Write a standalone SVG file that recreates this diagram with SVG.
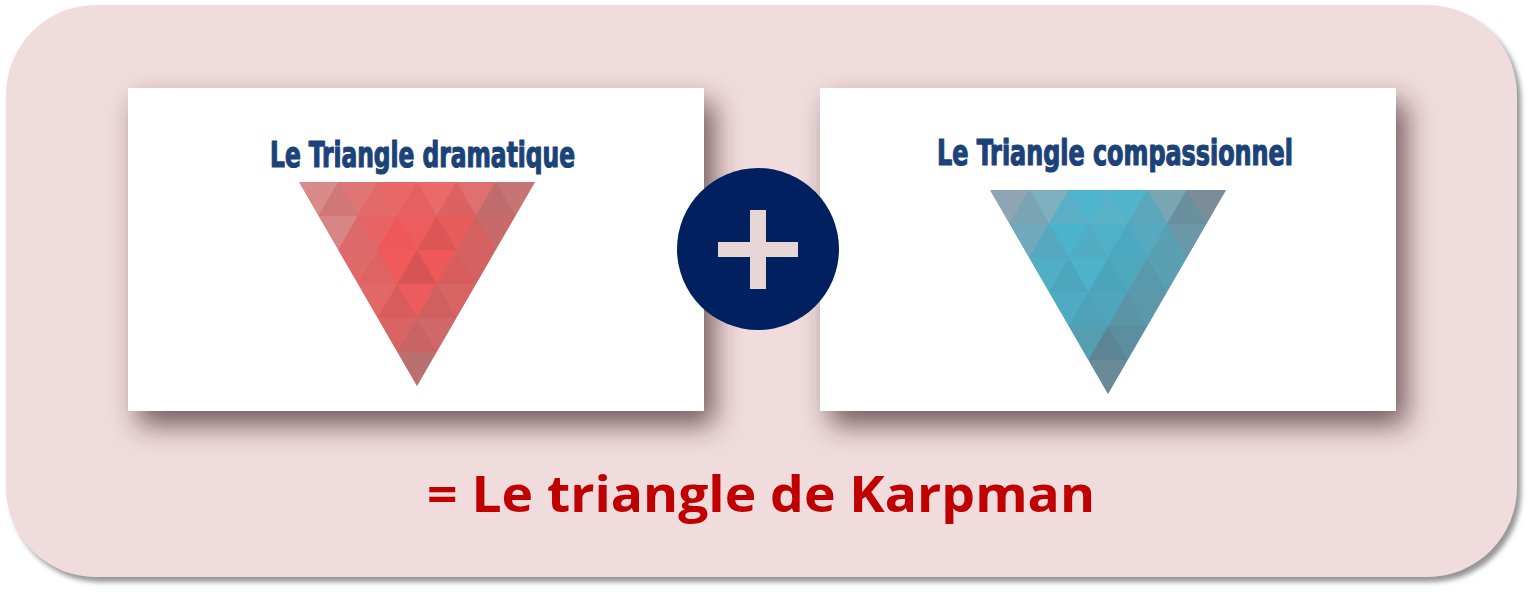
<svg xmlns="http://www.w3.org/2000/svg" xmlns:xlink="http://www.w3.org/1999/xlink" width="1536" height="597" viewBox="0 0 1536 597">
<style>
.title{font-family:"Liberation Sans Narrow","DejaVu Sans Condensed","Liberation Sans",sans-serif;font-weight:bold;font-size:35px;fill:#1b4279;stroke:#1b4279;stroke-width:1.2px;stroke-linejoin:round;}
.result{font-family:"Open Sans","Liberation Sans",sans-serif;font-weight:bold;font-size:50px;fill:#c00000;}
</style>
<defs>
<filter id="outerShadow" x="-5%" y="-5%" width="110%" height="115%">
<feDropShadow dx="4" dy="5" stdDeviation="2.5" flood-color="#8a8a8a" flood-opacity="0.9"/>
</filter>
<filter id="cardShadow" x="-10%" y="-15%" width="125%" height="145%">
<feDropShadow dx="10" dy="14" stdDeviation="14" flood-color="#4a2e30" flood-opacity="0.75"/>
</filter>
<path id="dn" d="M0,0 L39.33,0 L19.67,34 Z"/>
<path id="up" d="M19.67,0 L39.33,34 L0,34 Z"/>
</defs>

<rect id="background" x="6" y="5" width="1511" height="572" rx="90" fill="#f0dcdc" filter="url(#outerShadow)"/>

<g id="card-dramatique">
<rect x="128" y="88" width="576" height="323" fill="#ffffff" filter="url(#cardShadow)"/>
<text class="title" x="270" y="167" textLength="305" lengthAdjust="spacingAndGlyphs">Le Triangle dramatique</text>
<g transform="translate(299,182)">
<path d="M0.5,0.5 L235.5,0.5 L118,203.5 Z" fill="#dc6464"/>
<use href="#dn" x="0" y="0" fill="#d98a8a"/>
<use href="#dn" x="39.33" y="0" fill="#e07575"/>
<use href="#dn" x="78.67" y="0" fill="#e86868"/>
<use href="#dn" x="118" y="0" fill="#ea6a6a"/>
<use href="#dn" x="157.33" y="0" fill="#e07070"/>
<use href="#dn" x="196.67" y="0" fill="#c57575"/>
<use href="#up" x="19.67" y="0" fill="#d07878"/>
<use href="#up" x="59" y="0" fill="#e46a6a"/>
<use href="#up" x="98.33" y="0" fill="#e56060"/>
<use href="#up" x="137.67" y="0" fill="#dc6262"/>
<use href="#up" x="177" y="0" fill="#c06c6c"/>
<use href="#dn" x="19.67" y="34" fill="#d88585"/>
<use href="#dn" x="59" y="34" fill="#e86464"/>
<use href="#dn" x="98.33" y="34" fill="#ee5d5d"/>
<use href="#dn" x="137.67" y="34" fill="#e85c5c"/>
<use href="#dn" x="177" y="34" fill="#c86a6a"/>
<use href="#up" x="39.33" y="34" fill="#dc6a6a"/>
<use href="#up" x="78.67" y="34" fill="#ef5858"/>
<use href="#up" x="118" y="34" fill="#dc5656"/>
<use href="#up" x="157.33" y="34" fill="#d46060"/>
<use href="#dn" x="39.33" y="68" fill="#e06a6a"/>
<use href="#dn" x="78.67" y="68" fill="#f05a5a"/>
<use href="#dn" x="118" y="68" fill="#ee5858"/>
<use href="#dn" x="157.33" y="68" fill="#d56262"/>
<use href="#up" x="59" y="68" fill="#e06262"/>
<use href="#up" x="98.33" y="68" fill="#d85454"/>
<use href="#up" x="137.67" y="68" fill="#d85e5e"/>
<use href="#dn" x="59" y="102" fill="#e26868"/>
<use href="#dn" x="98.33" y="102" fill="#ec5c5c"/>
<use href="#dn" x="137.67" y="102" fill="#d86464"/>
<use href="#up" x="78.67" y="102" fill="#d85c5c"/>
<use href="#up" x="118" y="102" fill="#d06060"/>
<use href="#dn" x="78.67" y="136" fill="#d86464"/>
<use href="#dn" x="118" y="136" fill="#d06868"/>
<use href="#up" x="98.33" y="136" fill="#c86464"/>
<use href="#dn" x="98.33" y="170" fill="#bb7070"/>
</g>
</g>

<g id="card-compassionnel">
<rect x="820" y="88" width="576" height="323" fill="#ffffff" filter="url(#cardShadow)"/>
<text class="title" x="937" y="165" textLength="356" lengthAdjust="spacingAndGlyphs">Le Triangle compassionnel</text>
<g transform="translate(990,190)">
<path d="M0.5,0.5 L235.5,0.5 L118,203.5 Z" fill="#55a6bc"/>
<use href="#dn" x="0" y="0" fill="#8fa5b3"/>
<use href="#dn" x="39.33" y="0" fill="#7fb0c0"/>
<use href="#dn" x="78.67" y="0" fill="#4fb5cf"/>
<use href="#dn" x="118" y="0" fill="#52b3cc"/>
<use href="#dn" x="157.33" y="0" fill="#78a6b3"/>
<use href="#dn" x="196.67" y="0" fill="#7a8d98"/>
<use href="#up" x="19.67" y="0" fill="#7aa3b3"/>
<use href="#up" x="59" y="0" fill="#5aaec6"/>
<use href="#up" x="98.33" y="0" fill="#5ab2c9"/>
<use href="#up" x="137.67" y="0" fill="#5ba7bb"/>
<use href="#up" x="177" y="0" fill="#6a8f9e"/>
<use href="#dn" x="19.67" y="34" fill="#70a9bb"/>
<use href="#dn" x="59" y="34" fill="#4cb3cc"/>
<use href="#dn" x="98.33" y="34" fill="#4fb0c8"/>
<use href="#dn" x="137.67" y="34" fill="#55aac0"/>
<use href="#dn" x="177" y="34" fill="#6a98a8"/>
<use href="#up" x="39.33" y="34" fill="#55a8c0"/>
<use href="#up" x="78.67" y="34" fill="#52adc4"/>
<use href="#up" x="118" y="34" fill="#4ca8c0"/>
<use href="#up" x="157.33" y="34" fill="#5a9fb2"/>
<use href="#dn" x="39.33" y="68" fill="#50afc6"/>
<use href="#dn" x="78.67" y="68" fill="#4db3cb"/>
<use href="#dn" x="118" y="68" fill="#50a8bf"/>
<use href="#dn" x="157.33" y="68" fill="#5aa0b3"/>
<use href="#up" x="59" y="68" fill="#4ba6be"/>
<use href="#up" x="98.33" y="68" fill="#4ca4bb"/>
<use href="#up" x="137.67" y="68" fill="#5a98ab"/>
<use href="#dn" x="59" y="102" fill="#4eabc3"/>
<use href="#dn" x="98.33" y="102" fill="#4da6bd"/>
<use href="#dn" x="137.67" y="102" fill="#5a98aa"/>
<use href="#up" x="78.67" y="102" fill="#50a2b8"/>
<use href="#up" x="118" y="102" fill="#5a94a6"/>
<use href="#dn" x="78.67" y="136" fill="#559eb2"/>
<use href="#dn" x="118" y="136" fill="#5b8fa0"/>
<use href="#up" x="98.33" y="136" fill="#5c8494"/>
<use href="#dn" x="98.33" y="170" fill="#6a8a98"/>
</g>
</g>

<g id="plus">
<circle cx="758" cy="249" r="81" fill="#00205f"/>
<rect x="750" y="210" width="16" height="79" fill="#e8d6d6"/>
<rect x="718" y="242" width="80" height="15" fill="#e8d6d6"/>
</g>

<g id="result">
<text class="result" x="427" y="512" textLength="668" lengthAdjust="spacingAndGlyphs">= Le triangle de Karpman</text>
</g>
</svg>
